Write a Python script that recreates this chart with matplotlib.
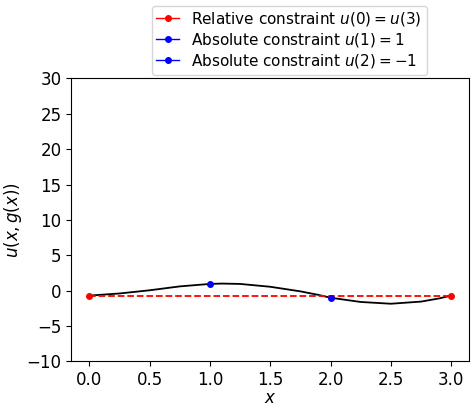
import numpy as np
import matplotlib
matplotlib.use('Agg')
import matplotlib.pyplot as plt

# curve
curve_x = [0.0, 0.25, 0.5, 0.75, 1.0, 1.1, 1.25, 1.5, 1.75, 1.9, 2.0, 2.25, 2.5, 2.75, 2.9, 3.0]
curve_y = [-0.7, -0.4, 0.05, 0.6, 0.95, 1.0, 0.95, 0.55, -0.1, -0.6, -1.0, -1.6, -1.85, -1.55, -1.1, -0.7]

rel_x = [0.0, 3.0]
rel_y = [-0.7, -0.7]
abs_x = [1.0, 2.0]
abs_y = [1.0, -1.0]

fig = plt.figure(figsize=(4.74, 4.13), dpi=100)
ax = fig.add_axes([0.15, 0.125, 0.84, 0.685])

ax.plot(curve_x, curve_y, color='black', lw=1.3)
ax.plot(rel_x, rel_y, 'r--', lw=1.3)
ax.plot(rel_x, rel_y, 'o', color='red', ms=4)
ax.plot(abs_x, abs_y, 'o', color='blue', ms=4)
h1, = ax.plot([], [], 'o-', color='red', ms=4, lw=1)
h2, = ax.plot([], [], 'o-', color='blue', ms=4, lw=1)
h3, = ax.plot([], [], 'o-', color='blue', ms=4, lw=1)

ax.set_xlim(-0.15, 3.15)
ax.set_ylim(-10, 30)
ax.set_yticks(np.arange(-10, 31, 5))
ax.set_xlabel('$x$', fontsize=12, labelpad=0)
ax.set_ylabel('$u(x, g(x))$', fontsize=12, labelpad=2)
ax.tick_params(labelsize=12)

fig.legend([h1, h2, h3],
           ['Relative constraint $u(0) = u(3)$',
            'Absolute constraint $u(1) = 1$',
            'Absolute constraint $u(2) = -1$'],
           loc='upper center', bbox_to_anchor=(0.61, 1.005), fontsize=11,
           handlelength=1.5, borderpad=0.3, labelspacing=0.2, fancybox=True)

fig.savefig('out.png', dpi=100)
